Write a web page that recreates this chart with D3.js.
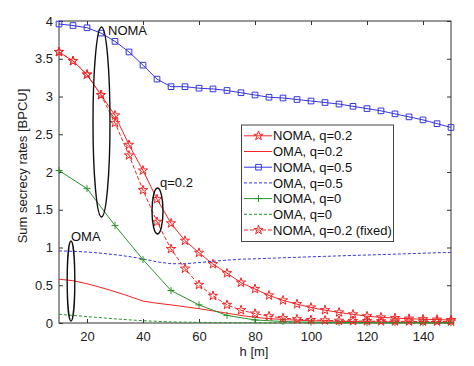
<!DOCTYPE html>
<html><head><meta charset="utf-8">
<script src="https://cdn.jsdelivr.net/npm/d3@7"></script>
<style>
body{margin:0;background:#fff;}
svg{display:block;font-family:"Liberation Sans",Arial,Helvetica,sans-serif;}
</style></head>
<body><svg id="c" width="474" height="366"></svg>
<script>
const h5 = [10,15,20,25,30,35,40,45,50,55,60,65,70,75,80,85,90,95,100,105,110,115,120,125,130,135,140,145,150];
const h10 = [10,20,30,40,50,60,70,80,90,100,110,120,130,140,150];
const nomaQ02 = [3.59,3.47,3.29,3.02,2.75,2.36,2.02,1.64,1.32,1.09,0.93,0.78,0.66,0.535,0.45,0.365,0.30,0.25,0.205,0.17,0.14,0.115,0.09,0.075,0.065,0.057,0.05,0.045,0.04];
const omaQ02 = [0.58,0.56,0.52,0.47,0.415,0.355,0.29,0.262,0.24,0.215,0.19,0.16,0.13,0.1,0.075,0.058,0.046,0.037,0.03,0.026,0.022,0.019,0.016,0.014,0.012,0.011,0.01,0.009,0.008];
const nomaQ05 = [3.96,3.94,3.91,3.84,3.73,3.59,3.415,3.23,3.13,3.13,3.11,3.10,3.08,3.05,3.02,2.99,2.98,2.96,2.94,2.92,2.90,2.87,2.84,2.81,2.77,2.73,2.69,2.64,2.59];
const omaQ05 = [0.955,0.95,0.94,0.925,0.905,0.88,0.85,0.81,0.785,0.785,0.8,0.818,0.833,0.845,0.85,0.857,0.864,0.87,0.877,0.883,0.889,0.895,0.9,0.906,0.912,0.918,0.924,0.93,0.935];
const nomaQ0 = [2.02,1.78,1.29,0.84,0.43,0.24,0.10,0.04,0.02,0.01,0.006,0.004,0.003,0.002,0.002];
const omaQ0 = [0.115,0.10,0.085,0.07,0.055,0.042,0.03,0.022,0.015,0.011,0.008,0.006,0.005,0.004,0.004,0.003,0.003,0.003,0.003,0.002,0.002,0.002,0.002,0.002,0.002,0.002,0.002,0.002,0.002];
const nomaQ02fixed = [3.59,3.47,3.29,3.02,2.65,2.22,1.76,1.34,0.98,0.72,0.505,0.36,0.24,0.17,0.125,0.09,0.065,0.05,0.04,0.035,0.03,0.027,0.025,0.023,0.022,0.021,0.02,0.02,0.02];
const xTicks = [20,40,60,80,100,120,140];
const yTicks = [0,0.5,1,1.5,2,2.5,3,3.5,4];
const legendLabels = ["NOMA, q=0.2","OMA, q=0.2","NOMA, q=0.5","OMA, q=0.5","NOMA, q=0","OMA, q=0","NOMA, q=0.2 (fixed)"];

const RED="#f22424", BLUE="#3535e0", GREEN="#2a922a";
const series = [
  {x:h5, y:nomaQ02, color:RED, dash:null, marker:"star"},
  {x:h5, y:omaQ02, color:RED, dash:null, marker:null},
  {x:h5, y:nomaQ05, color:BLUE, dash:null, marker:"square"},
  {x:h5, y:omaQ05, color:BLUE, dash:"3,2", marker:null},
  {x:h10, y:nomaQ0, color:GREEN, dash:null, marker:"plus"},
  {x:h5, y:omaQ0, color:GREEN, dash:"3,2", marker:null},
  {x:h5, y:nomaQ02fixed, color:RED, dash:"4,2", marker:"star"}
];

const L=59, R=451, T=21, B=323;
const svg = d3.select("#c");
const x = d3.scaleLinear().domain([10,150]).range([L,R]);
const y = d3.scaleLinear().domain([0,4]).range([B,T]);

function markerPath(m){
  if(m==="star") return d3.symbol(d3.symbolStar,27)();
  if(m==="square") return d3.symbol(d3.symbolSquare,32)();
  if(m==="plus") return "M-3.5,0H3.5M0,-3.5V3.5";
  return null;
}

const axCol="#333";
svg.append("rect").attr("x",L).attr("y",T).attr("width",R-L).attr("height",B-T)
  .attr("fill","none").attr("stroke",axCol).attr("stroke-width",1);

const gx = svg.append("g").attr("transform",`translate(0,${B})`)
  .call(d3.axisBottom(x).tickValues(xTicks).tickSize(-4).tickPadding(9).tickFormat(d3.format("d")));
const gxt = svg.append("g").attr("transform",`translate(0,${T})`)
  .call(d3.axisTop(x).tickValues(xTicks).tickSize(-4).tickFormat(""));
const gy = svg.append("g").attr("transform",`translate(${L},0)`)
  .call(d3.axisLeft(y).tickValues(yTicks).tickSize(-4).tickPadding(6).tickFormat(d=>String(d)));
const gyr = svg.append("g").attr("transform",`translate(${R},0)`)
  .call(d3.axisRight(y).tickValues(yTicks).tickSize(-4).tickFormat(""));
[gx,gxt,gy,gyr].forEach(g=>{
  g.select(".domain").remove();
  g.selectAll("line").attr("stroke",axCol);
  g.selectAll("text").attr("fill","#222").style("font-size","13px").style("font-family","Liberation Sans, Arial, sans-serif");
});

const line = d3.line();
series.forEach(s=>{
  const pts = s.x.map((v,i)=>[x(v),y(s.y[i])]);
  svg.append("path").attr("d",line(pts)).attr("fill","none").attr("stroke",s.color)
    .attr("stroke-width",1).attr("stroke-dasharray",s.dash);
  if(s.marker){
    svg.append("g").selectAll("path").data(pts).join("path")
      .attr("transform",d=>`translate(${d[0]},${d[1]})`)
      .attr("d",markerPath(s.marker)).attr("fill","none").attr("stroke",s.color).attr("stroke-width",1);
  }
});

const ann = [
  {cx:101.5, cy:122, rx:8.5, ry:95, text:"NOMA", tx:108, ty:35},
  {cx:157.5, cy:211, rx:5.5, ry:23, text:"q=0.2", tx:160, ty:187},
  {cx:71, cy:281, rx:3.8, ry:40, text:"OMA", tx:71, ty:241}
];
ann.forEach(a=>{
  svg.append("ellipse").attr("cx",a.cx).attr("cy",a.cy).attr("rx",a.rx).attr("ry",a.ry)
    .attr("fill","none").attr("stroke","#111").attr("stroke-width",1.4);
  svg.append("text").attr("x",a.tx).attr("y",a.ty).attr("font-size",13).attr("fill","#111").text(a.text);
});

const lg = svg.append("g");
lg.append("rect").attr("x",241.5).attr("y",125).attr("width",152).attr("height",116.5)
  .attr("fill","#fff").attr("stroke","#444").attr("stroke-width",1);
const rowY = d3.scaleLinear().domain([0,6]).range([135.8,230]);
series.forEach((s,i)=>{
  const yy = rowY(i);
  lg.append("line").attr("x1",244).attr("x2",272).attr("y1",yy).attr("y2",yy)
    .attr("stroke",s.color).attr("stroke-width",1).attr("stroke-dasharray",s.dash);
  if(s.marker){
    lg.append("path").attr("transform",`translate(258.5,${yy})`).attr("d",markerPath(s.marker))
      .attr("fill","none").attr("stroke",s.color).attr("stroke-width",1);
  }
  lg.append("text").attr("x",273).attr("y",yy+4.6).attr("font-size",13).attr("fill","#111").text(legendLabels[i]);
});

svg.append("text").attr("x",(L+R)/2-1).attr("y",355.5).attr("text-anchor","middle")
  .attr("font-size",13).attr("fill","#222").text("h [m]");
svg.append("text").attr("transform","translate(27,166) rotate(-90)").attr("text-anchor","middle")
  .attr("font-size",13).attr("fill","#222").text("Sum secrecy rates [BPCU]");
</script></body></html>
